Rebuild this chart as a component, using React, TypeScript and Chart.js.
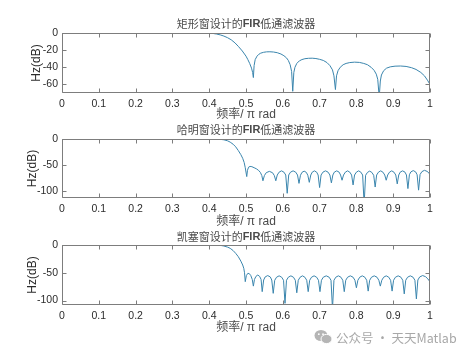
import React, { useEffect, useRef } from 'react';
import { Chart, registerables } from 'chart.js';

Chart.register(...registerables);

// ---------------- data ----------------
const titles = ['矩形窗设计的FIR低通滤波器', '哈明窗设计的FIR低通滤波器', '凯塞窗设计的FIR低通滤波器'];
const xAxisLabel = '频率/ π rad';
const yAxisLabel = 'Hz(dB)';

const xTickValues = [0, 0.1, 0.2, 0.3, 0.4, 0.5, 0.6, 0.7, 0.8, 0.9, 1];
const xTickLabels = ['0', '0.1', '0.2', '0.3', '0.4', '0.5', '0.6', '0.7', '0.8', '0.9', '1'];

const yMins = [-70, -113, -108];
const yMaxes = [0, 0, 0];
const yTickValues = [[-60, -40, -20, 0], [-100, -50, 0], [-100, -50, 0]];
const yTickLabels = [['-60', '-40', '-20', '0'], ['-100', '-50', '0'], ['-100', '-50', '0']];

// Rectangular window response (normalised frequency, dB)
const rectFreq = [
  0, 0.02, 0.05, 0.08, 0.11, 0.14, 0.17, 0.2, 0.23, 0.26, 0.29, 0.32, 0.35, 0.38, 0.4,
  0.41, 0.42, 0.43, 0.44, 0.45, 0.46, 0.47, 0.48, 0.49, 0.5, 0.505, 0.51, 0.515, 0.518, 0.52,
  0.522, 0.525, 0.53, 0.535, 0.54, 0.548, 0.556, 0.565, 0.575, 0.585, 0.595, 0.603, 0.61, 0.615, 0.62, 0.624, 0.627,
  0.63, 0.633, 0.638, 0.645, 0.652, 0.66, 0.67, 0.68, 0.69, 0.7, 0.71, 0.72, 0.728, 0.735, 0.739, 0.743,
  0.746, 0.75, 0.756, 0.764, 0.772, 0.782, 0.795, 0.808, 0.82, 0.83, 0.84, 0.848, 0.854, 0.858, 0.862,
  0.865, 0.868, 0.874, 0.882, 0.892, 0.905, 0.92, 0.935, 0.95, 0.962, 0.975, 0.985, 0.993, 1.0,
];
const rectDb = [
  -0.1, 0.2, -0.3, 0.2, -0.3, 0.2, -0.3, 0.2, -0.3, 0.2, -0.3, 0.2, -0.3, 0.1, -0.2,
  -0.5, -1.2, -2.2, -3.6, -5.5, -8, -11.5, -16, -21, -27, -31, -35.5, -41, -46, -52,
  -38, -31, -27, -24.8, -23.5, -22.5, -22, -21.9, -22.2, -23, -24.5, -26.5, -29, -32, -37, -45, -68,
  -46, -40, -35.5, -32.5, -31, -30, -29.5, -29.4, -29.8, -30.7, -32, -34.5, -38, -43, -50, -66,
  -50, -44, -40, -37, -35.5, -34.5, -34, -34.3, -35.5, -37, -40, -43.5, -48, -54, -75,
  -56, -49, -44, -41, -39.5, -38.7, -38.5, -39, -40.5, -42.5, -46, -50, -55, -60,
];

// Hamming window response
const hammFreq = [
  0, 0.2, 0.4, 0.42, 0.43, 0.44, 0.45, 0.457, 0.465, 0.472, 0.479, 0.486, 0.491, 0.495, 0.498, 0.502,
  0.504, 0.507, 0.511, 0.516, 0.522, 0.528, 0.534, 0.539, 0.543, 0.546,
  0.55, 0.555, 0.5635, 0.572, 0.577, 0.581,
  0.585, 0.59, 0.5965, 0.603, 0.608, 0.612,
  0.616, 0.621, 0.628, 0.635, 0.64, 0.644,
  0.648, 0.652, 0.658, 0.664, 0.668, 0.672,
  0.676, 0.68, 0.686, 0.692, 0.696, 0.7,
  0.704, 0.709, 0.716, 0.723, 0.728, 0.732,
  0.736, 0.74, 0.7465, 0.753, 0.757, 0.761,
  0.765, 0.77, 0.776, 0.782, 0.787, 0.791,
  0.795, 0.8, 0.806, 0.812, 0.817, 0.821,
  0.825, 0.83, 0.836, 0.842, 0.847, 0.851,
  0.855, 0.86, 0.866, 0.872, 0.877, 0.881,
  0.885, 0.89, 0.896, 0.902, 0.907, 0.911,
  0.915, 0.919, 0.9255, 0.932, 0.936, 0.94,
  0.944, 0.948, 0.9545, 0.961, 0.965, 0.969,
  0.973, 0.978, 0.985, 0.992, 0.997, 1.0,
];
const hammDb = [
  0, 0, 0, -0.2, -0.7, -1.5, -3.5, -6, -10, -15, -22, -30, -37, -45, -55, -72,
  -60, -54, -52.5, -53, -55, -57, -60, -64, -70, -80,
  -70, -64.5, -62, -64.5, -70, -80,
  -69, -63.5, -61, -63.5, -69, -104,
  -69, -63.5, -61, -63.5, -69, -85,
  -69.5, -64, -61.5, -64, -69.5, -83,
  -69, -63.5, -61, -63.5, -69, -93,
  -69, -63.5, -61, -63.5, -69, -84,
  -69, -63.5, -61, -63.5, -69, -79,
  -69, -63.5, -61, -63.5, -69, -88,
  -69, -63.5, -61, -63.5, -69, -125,
  -69.5, -64, -61.5, -64, -69.5, -92,
  -69, -63.5, -61, -63.5, -69, -79,
  -69, -63.5, -61, -63.5, -69, -86,
  -69, -63.5, -61, -63.5, -69, -95,
  -68.5, -63, -60.5, -63, -68.5, -98,
  -68, -62.5, -60, -62, -65, -68,
];

// Kaiser window response
const kaiserFreq = [
  0, 0.2, 0.4, 0.42, 0.43, 0.44, 0.45, 0.457, 0.465, 0.472, 0.479, 0.486, 0.491, 0.494, 0.496, 0.498,
  0.501, 0.505, 0.509, 0.513, 0.517, 0.52,
  0.523, 0.527, 0.532, 0.537, 0.541, 0.544,
  0.548, 0.552, 0.559, 0.566, 0.57, 0.574,
  0.578, 0.583, 0.59, 0.597, 0.602, 0.606,
  0.61, 0.615, 0.622, 0.629, 0.634, 0.638,
  0.642, 0.647, 0.6535, 0.66, 0.665, 0.669,
  0.673, 0.678, 0.685, 0.692, 0.697, 0.701,
  0.705, 0.71, 0.718, 0.726, 0.731, 0.735,
  0.739, 0.744, 0.751, 0.758, 0.763, 0.767,
  0.771, 0.776, 0.7835, 0.791, 0.796, 0.8,
  0.804, 0.809, 0.816, 0.823, 0.828, 0.832,
  0.836, 0.841, 0.8485, 0.856, 0.861, 0.865,
  0.869, 0.874, 0.881, 0.888, 0.893, 0.897,
  0.901, 0.906, 0.9135, 0.921, 0.926, 0.93,
  0.934, 0.939, 0.9465, 0.954, 0.959, 0.963,
  0.967, 0.972, 0.98, 0.988, 0.994, 1.0,
];
const kaiserDb = [
  0, 0, 0, -0.1, -0.6, -1.8, -3.8, -6, -10, -15, -21, -29, -36, -42, -50, -66,
  -55, -51, -51.5, -55, -62, -74,
  -62, -56.5, -54, -56.5, -62, -84,
  -63, -57.5, -55, -57.5, -63, -87,
  -63.5, -58, -55.5, -58, -63.5, -105,
  -63.5, -58, -55.5, -58, -63.5, -86,
  -63.5, -58, -55.5, -58, -63.5, -84,
  -63.5, -58, -55.5, -58, -63.5, -84,
  -63.5, -58, -55.5, -58, -63.5, -115,
  -63.5, -58, -55.5, -58, -63.5, -84,
  -63.5, -58, -55.5, -58, -63.5, -77,
  -63.5, -58, -55.5, -58, -63.5, -83,
  -63.5, -58, -55.5, -58, -63.5, -74,
  -63.5, -58, -55.5, -58, -63.5, -83,
  -63.5, -58, -55.5, -58, -63.5, -88,
  -63.5, -58, -55.5, -58, -63.5, -97,
  -63, -57.5, -55, -57, -61, -66,
];

const seriesFreq = [rectFreq, hammFreq, kaiserFreq];
const seriesDb = [rectDb, hammDb, kaiserDb];

// ---------------- layout / style ----------------
const W = 474;
const H = 355;
const AREA_LEFT = 62;
const AREA_RIGHT = 430;
const GEOM = [
  { top: 33, bottom: 93, titleY: 24, xLabelY: 115, yLabelX: 37 },
  { top: 139, bottom: 198, titleY: 130, xLabelY: 222, yLabelX: 33 },
  { top: 245, bottom: 305, titleY: 237, xLabelY: 328, yLabelX: 33 },
];
const LINE_COLOR = '#3a85ad';
const AXIS_COLOR = '#7d7d7d';
const TEXT_COLOR = '#2b2b2b';
const LABEL_COLOR = '#4a4a4a';
const TICK_FONT = { family: "'Liberation Sans', Arial, sans-serif", size: 10.5 };
const LABEL_FONT_SIZE = 12;
const LABEL_FONT = { family: "'Liberation Sans', 'Noto Sans CJK SC', sans-serif", size: LABEL_FONT_SIZE, lineHeight: 1.2 };
const TICK_LEN = 4;

function makeFramePlugin(idx: number) {
  return {
    id: 'matlabFrame' + idx,
    afterDatasetsDraw(chart: any) {
      const { ctx, chartArea, scales } = chart;
      const { left, right, top, bottom } = chartArea;
      const x = scales.x;
      const y = scales.y;
      ctx.save();
      ctx.strokeStyle = AXIS_COLOR;
      ctx.lineWidth = 1;
      const L = Math.round(left) + 0.5;
      const R = Math.round(right) - 0.5;
      const T = Math.round(top) + 0.5;
      const B = Math.round(bottom) - 0.5;
      ctx.beginPath();
      ctx.rect(L, T, R - L, B - T);
      for (const t of x.ticks) {
        const px = Math.round(x.getPixelForValue(t.value)) + 0.5;
        ctx.moveTo(px, B);
        ctx.lineTo(px, B - TICK_LEN);
        ctx.moveTo(px, T);
        ctx.lineTo(px, T + TICK_LEN);
      }
      for (const t of y.ticks) {
        const py = Math.round(y.getPixelForValue(t.value)) + 0.5;
        ctx.moveTo(L, py);
        ctx.lineTo(L + TICK_LEN, py);
        ctx.moveTo(R, py);
        ctx.lineTo(R - TICK_LEN, py);
      }
      ctx.stroke();

      // title: CJK parts regular, "FIR" bold
      const title = titles[idx];
      const k = title.indexOf('FIR');
      const parts = [
        { t: title.slice(0, k), f: "11px 'Noto Sans CJK SC', sans-serif" },
        { t: 'FIR', f: "bold 11px 'Liberation Sans', Arial, sans-serif" },
        { t: title.slice(k + 3), f: "11px 'Noto Sans CJK SC', sans-serif" },
      ];
      let total = 0;
      for (const p of parts) {
        ctx.font = p.f;
        total += ctx.measureText(p.t).width;
      }
      let cx = (left + right) / 2 - total / 2;
      ctx.fillStyle = LABEL_COLOR;
      ctx.textBaseline = 'middle';
      ctx.textAlign = 'left';
      for (const p of parts) {
        ctx.font = p.f;
        ctx.fillText(p.t, cx, GEOM[idx].titleY);
        cx += ctx.measureText(p.t).width;
      }
      ctx.restore();
    },
  };
}

function Panel({ idx }: { idx: number }) {
  const ref = useRef<HTMLCanvasElement | null>(null);
  useEffect(() => {
    const canvas = ref.current;
    if (!canvas) return;
    const g = GEOM[idx];
    const half = (LABEL_FONT_SIZE * 1.2) / 2;
    const xAxisH = g.xLabelY + half - g.bottom;
    const pts = seriesFreq[idx].map((f, i) => ({ x: f, y: seriesDb[idx][i] }));
    const chart = new Chart(canvas, {
      type: 'line',
      data: {
        datasets: [
          {
            data: pts,
            borderColor: LINE_COLOR,
            borderWidth: 1,
            pointRadius: 0,
            tension: 0,
            fill: false,
          },
        ],
      },
      options: {
        responsive: false,
        animation: false,
        devicePixelRatio: 1,
        events: [],
        layout: {
          padding: { left: 0, right: W - AREA_RIGHT, top: g.top, bottom: H - g.bottom - xAxisH },
        },
        plugins: {
          legend: { display: false },
          tooltip: { enabled: false },
          title: { display: false },
        },
        scales: {
          x: {
            type: 'linear',
            min: 0,
            max: 1,
            afterBuildTicks: (s: any) => {
              s.ticks = xTickValues.map((v) => ({ value: v }));
            },
            afterFit: (s: any) => {
              s.height = xAxisH;
            },
            grid: { display: false, drawTicks: false },
            border: { display: false },
            ticks: {
              autoSkip: false,
              maxRotation: 0,
              padding: 5,
              color: TEXT_COLOR,
              font: TICK_FONT,
              callback: (v: any) => {
                const k = xTickValues.findIndex((t) => Math.abs(t - Number(v)) < 1e-9);
                return k >= 0 ? xTickLabels[k] : '';
              },
            },
            title: {
              display: true,
              text: xAxisLabel,
              color: LABEL_COLOR,
              font: LABEL_FONT,
              padding: { top: 0, bottom: 0 },
            },
          },
          y: {
            type: 'linear',
            min: yMins[idx],
            max: yMaxes[idx],
            afterBuildTicks: (s: any) => {
              s.ticks = yTickValues[idx].map((v) => ({ value: v }));
            },
            afterFit: (s: any) => {
              s.width = AREA_LEFT;
            },
            grid: { display: false, drawTicks: false },
            border: { display: false },
            ticks: {
              padding: 4,
              color: TEXT_COLOR,
              font: TICK_FONT,
              callback: (v: any) => {
                const k = yTickValues[idx].findIndex((t) => Math.abs(t - Number(v)) < 1e-9);
                return k >= 0 ? yTickLabels[idx][k] : '';
              },
            },
            title: {
              display: true,
              text: yAxisLabel,
              color: TEXT_COLOR,
              font: LABEL_FONT,
              padding: { top: g.yLabelX - half, bottom: 0 },
            },
          },
        },
      } as any,
      plugins: [makeFramePlugin(idx)],
    });
    return () => chart.destroy();
  }, [idx]);
  return (
    <canvas
      ref={ref}
      width={W}
      height={H}
      style={{ position: 'absolute', left: 0, top: 0, width: W, height: H }}
    />
  );
}

export default function App() {
  return (
    <div
      style={{
        position: 'fixed',
        left: 0,
        top: 0,
        width: W,
        height: H,
        background: '#ffffff',
        overflow: 'hidden',
      }}
    >
      <Panel idx={0} />
      <Panel idx={1} />
      <Panel idx={2} />
      <div
        style={{
          position: 'absolute',
          left: 314,
          top: 327,
          height: 20,
          display: 'flex',
          alignItems: 'center',
          color: '#a8a8a8',
          fontFamily: "'Noto Sans CJK SC', sans-serif",
          fontSize: 12.5,
          whiteSpace: 'nowrap',
        }}
      >
        <svg width="19" height="16" viewBox="0 0 19 16" style={{ marginRight: 3 }}>
          <ellipse cx="7" cy="6.5" rx="6.5" ry="5.5" fill="#b5b5b5" />
          <ellipse cx="12.5" cy="10" rx="5.5" ry="4.6" fill="#b5b5b5" stroke="#ffffff" strokeWidth="1" />
          <circle cx="4.8" cy="5.2" r="0.9" fill="#fff" />
          <circle cx="9" cy="5.2" r="0.9" fill="#fff" />
        </svg>
        <span>公众号 · 天天Matlab</span>
      </div>
    </div>
  );
}
